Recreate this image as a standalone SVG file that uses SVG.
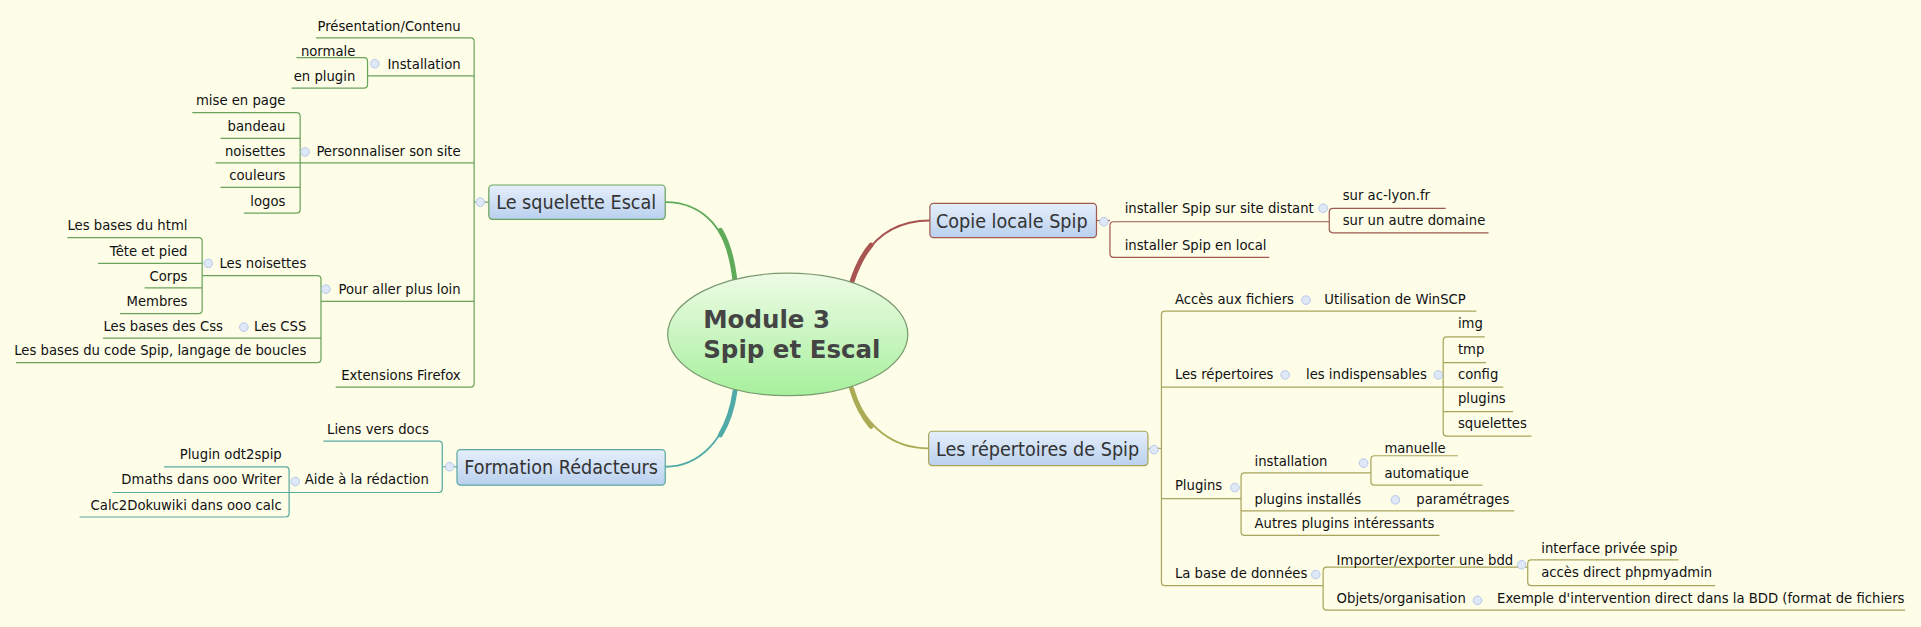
<svg xmlns="http://www.w3.org/2000/svg" width="1921" height="627" viewBox="0 0 1921 627">
<defs>
<linearGradient id="nb" x1="0" y1="0" x2="0" y2="1"><stop offset="0" stop-color="#e6effb"/><stop offset="1" stop-color="#b9d0ee"/></linearGradient>
<linearGradient id="cg" x1="0" y1="0" x2="0" y2="1"><stop offset="0" stop-color="#eefbe6"/><stop offset="1" stop-color="#a6f09c"/></linearGradient>
<style>
text{font-family:"DejaVu Sans Condensed","DejaVu Sans",sans-serif;font-stretch:condensed;font-size:12px;fill:#111}
.m{font-size:16px;fill:#333}
.e{text-anchor:end}
.g{stroke:#6aa35c;fill:none;stroke-width:1}
.r{stroke:#a05a50;fill:none;stroke-width:1}
.o{stroke:#a9a55a;fill:none;stroke-width:1}
.t{stroke:#5aa8a0;fill:none;stroke-width:1}
.c{fill:#dfe8f7;stroke:#b4c6e6;stroke-width:0.8}
.box{fill:url(#nb);stroke-width:1}
.thin{fill:none;stroke-width:1.5}
.thick{fill:none;stroke-width:4;stroke-linecap:round}
</style>
</defs>
<rect width="1921" height="627" fill="#fdfde8"/>
<g transform="scale(1.22513)">
<g id="connectors">
<path class="thin" d="M600,230 C595,188 575,165 543,165" stroke="#5fab5a"/>
<path class="thick" d="M600,230 C598,212 594,198 588,188" stroke="#5fab5a"/>
<path class="thin" d="M695,231 C707,195 730,180 759,180" stroke="#a85450"/>
<path class="thick" d="M695,231 C699,219 704,208 711,200" stroke="#a85450"/>
<path class="thin" d="M695,317 C707,350 730,366 758,366" stroke="#abab55"/>
<path class="thick" d="M695,317 C699,330 704,340 711,348" stroke="#abab55"/>
<path class="thin" d="M600,319 C593,360 570,381 543,381" stroke="#4faaa8"/>
<path class="thick" d="M600,319 C598,333 594,345 588,355" stroke="#4faaa8"/>
<g class="g">
<path d="M387,34 V313"/>
<path d="M258,31 H384 Q387,31 387,34"/>
<path d="M300,62 H387"/><path d="M242,47 H297 Q300,47 300,50 V69 Q300,72 297,72 H238"/>
<path d="M245,133 H387"/><path d="M157,92 H242 Q245,92 245,95 V171 Q245,174 242,174 H199"/>
<path d="M180,113 H245 M176,133 H245 M180,153 H245"/>
<path d="M262,246 H387"/><path d="M165,225 H259 Q262,225 262,228 V293 Q262,296 259,296 H13"/>
<path d="M84,276 H262"/>
<path d="M55,194 H162 Q165,194 165,197 V253 Q165,256 162,256 H98"/>
<path d="M80,215 H165 M118,235 H165"/>
<path d="M274,316 H384 Q387,316 387,313"/>
<path d="M387,165 H399"/>
</g>
<g class="t">
<path d="M264,360 H358 Q361,360 361,363 V399 Q361,402 358,402 H236"/>
<path d="M134,381 H233 Q236,381 236,384 V419 Q236,422 233,422 H65"/>
<path d="M92,402 H236"/>
<path d="M361,381 H373"/>
</g>
<g class="r">
<path d="M895,180 H906"/>
<path d="M906,184 V207 Q906,210 909,210 H1036"/>
<path d="M906,184 Q906,181 909,181 H1085"/>
<path d="M1085,173 Q1085,170 1088,170 H1180 M1085,173 V187 Q1085,190 1088,190 H1215"/>
</g>
<g class="o">
<path d="M937,366 H948"/>
<path d="M948,257 Q948,254 951,254 H1205 M948,257 V475 Q948,478 951,478 H1080"/>
<path d="M948,316 H1178 M948,407 H1013"/>
<path d="M1178,278 Q1178,275 1181,275 H1212 M1178,278 V353 Q1178,356 1181,356 H1250"/>
<path d="M1178,296 H1213 M1178,316 H1227 M1178,336 H1235"/>
<path d="M1013,389 Q1013,386 1016,386 H1119 M1013,389 V434 Q1013,437 1016,437 H1175"/>
<path d="M1013,417 H1236"/>
<path d="M1119,375 Q1119,372 1122,372 H1190 M1119,375 V393 Q1119,396 1122,396 H1210"/>
<path d="M1080,466 Q1080,463 1083,463 H1247 M1080,466 V495 Q1080,498 1083,498 H1555"/>
<path d="M1247,460 Q1247,457 1250,457 H1370 M1247,460 V475 Q1247,478 1250,478 H1400"/>
</g>
</g>
<g id="center">
<ellipse cx="643" cy="273" rx="98" ry="50" fill="url(#cg)" stroke="#7a9a70"/>
<text x="574" y="268" style="font-family:'DejaVu Sans',sans-serif;font-stretch:normal;font-size:20px;font-weight:bold;fill:#444">Module 3</text>
<text x="574" y="292" style="font-family:'DejaVu Sans',sans-serif;font-stretch:normal;font-size:20px;font-weight:bold;fill:#444">Spip et Escal</text>
</g>
<g id="escal">
<rect class="box" x="399" y="151" width="144" height="28" rx="3" stroke="#6aa35c"/>
<text class="m" x="405" y="171">Le squelette Escal</text>
<circle class="c" cx="392" cy="165" r="3.5"/>
<text class="e" x="376" y="25">Présentation/Contenu</text>
<text class="e" x="376" y="56">Installation</text><circle class="c" cx="306" cy="52" r="3.5"/>
<text class="e" x="290" y="46">normale</text>
<text class="e" x="290" y="66">en plugin</text>
<text class="e" x="376" y="127">Personnaliser son site</text><circle class="c" cx="249" cy="124" r="3.5"/>
<text class="e" x="233" y="86">mise en page</text>
<text class="e" x="233" y="107">bandeau</text>
<text class="e" x="233" y="127">noisettes</text>
<text class="e" x="233" y="147">couleurs</text>
<text class="e" x="233" y="168">logos</text>
<text class="e" x="376" y="240">Pour aller plus loin</text><circle class="c" cx="266" cy="236" r="3.5"/>
<text class="e" x="250" y="219">Les noisettes</text><circle class="c" cx="170" cy="215" r="3.5"/>
<text class="e" x="153" y="188">Les bases du html</text>
<text class="e" x="153" y="209">Tête et pied</text>
<text class="e" x="153" y="229">Corps</text>
<text class="e" x="153" y="250">Membres</text>
<text class="e" x="250" y="270">Les CSS</text><circle class="c" cx="199" cy="267" r="3.5"/>
<text class="e" x="182" y="270">Les bases des Css</text>
<text class="e" x="250" y="290">Les bases du code Spip, langage de boucles</text>
<text class="e" x="376" y="310">Extensions Firefox</text>
</g>
<g id="formation">
<rect class="box" x="373" y="367" width="170" height="29" rx="3" stroke="#5aa8a0"/>
<text class="m" x="379" y="387">Formation Rédacteurs</text>
<circle class="c" cx="367" cy="381" r="3.5"/>
<text class="e" x="350" y="354">Liens vers docs</text>
<text class="e" x="350" y="395">Aide à la rédaction</text><circle class="c" cx="241" cy="393" r="3.5"/>
<text class="e" x="230" y="375">Plugin odt2spip</text>
<text class="e" x="230" y="395">Dmaths dans ooo Writer</text>
<text class="e" x="230" y="416">Calc2Dokuwiki dans ooo calc</text>
</g>
<g id="copie">
<rect class="box" x="759" y="166" width="136" height="28" rx="3" stroke="#a05a50"/>
<text class="m" x="764" y="186">Copie locale Spip</text>
<circle class="c" cx="901" cy="181" r="3.5"/>
<text x="918" y="174">installer Spip sur site distant</text><circle class="c" cx="1080" cy="170" r="3.5"/>
<text x="1096" y="163">sur ac-lyon.fr</text>
<text x="1096" y="184">sur un autre domaine</text>
<text x="918" y="204">installer Spip en local</text>
</g>
<g id="repertoires">
<rect class="box" x="758" y="352" width="179" height="28" rx="3" stroke="#a9a55a"/>
<text class="m" x="764" y="372">Les répertoires de Spip</text>
<circle class="c" cx="942" cy="367" r="3.5"/>
<text x="959" y="248">Accès aux fichiers</text><circle class="c" cx="1066" cy="245" r="3.5"/>
<text x="1081" y="248">Utilisation de WinSCP</text>
<text x="959" y="309">Les répertoires</text><circle class="c" cx="1049" cy="306" r="3.5"/>
<text x="1066" y="309">les indispensables</text><circle class="c" cx="1174" cy="306" r="3.5"/>
<text x="1190" y="268">img</text>
<text x="1190" y="289">tmp</text>
<text x="1190" y="309">config</text>
<text x="1190" y="329">plugins</text>
<text x="1190" y="349">squelettes</text>
<text x="959" y="400">Plugins</text><circle class="c" cx="1008" cy="398" r="3.5"/>
<text x="1024" y="380">installation</text><circle class="c" cx="1113" cy="378" r="3.5"/>
<text x="1130" y="370">manuelle</text>
<text x="1130" y="390">automatique</text>
<text x="1024" y="411">plugins installés</text><circle class="c" cx="1139" cy="408" r="3.5"/>
<text x="1156" y="411">paramétrages</text>
<text x="1024" y="431">Autres plugins intéressants</text>
<text x="959" y="472">La base de données</text><circle class="c" cx="1074" cy="469" r="3.5"/>
<text x="1091" y="461">Importer/exporter une bdd</text><circle class="c" cx="1242" cy="461" r="3.5"/>
<text x="1258" y="451">interface privée spip</text>
<text x="1258" y="471">accès direct phpmyadmin</text>
<text x="1091" y="492">Objets/organisation</text><circle class="c" cx="1206" cy="490" r="3.5"/>
<text x="1222" y="492">Exemple d'intervention direct dans la BDD (format de fichiers</text>
</g>
</g>
</svg>
